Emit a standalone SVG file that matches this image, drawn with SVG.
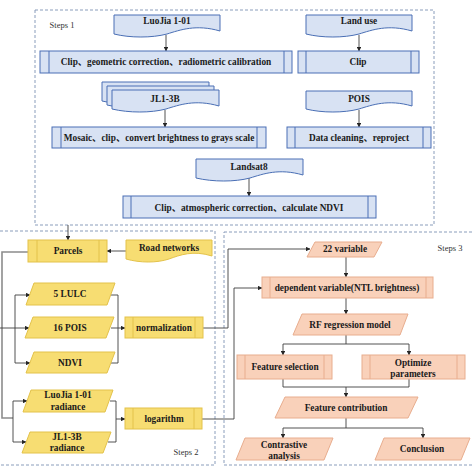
<svg xmlns="http://www.w3.org/2000/svg" width="474" height="474" viewBox="0 0 474 474">
<defs>
<marker id="arr" viewBox="0 0 6 6" refX="5.5" refY="3" markerWidth="4.5" markerHeight="4.5" orient="auto" markerUnits="userSpaceOnUse">
<path d="M0,0 L6,3 L0,6 z" fill="#262626"/>
</marker>
<style>
text{font-family:"Liberation Serif","Noto Sans CJK SC",serif;font-weight:bold;font-size:9.3px;fill:#1a1a1a;text-anchor:middle}
.lbl{font-weight:normal;font-size:8.5px;fill:#333}
.blue{fill:#D8E2F3;stroke:#4A6FB5;stroke-width:1}
.yel{fill:#F7DD72;stroke:#E3C24A;stroke-width:1}
.pch{fill:#F9D1BA;stroke:#E8AD8E;stroke-width:1}
.il{fill:none;stroke-width:1}
.blue-l{stroke:#4A6FB5}
.yel-l{stroke:#E3C24A}
.pch-l{stroke:#E8AD8E}
.grp{fill:none;stroke:#8A9DBB;stroke-width:1;stroke-dasharray:3,2}
.c{fill:none;stroke:#404040;stroke-width:0.9}
.a{marker-end:url(#arr)}
.g{fill:none;stroke:#8C8C8C;stroke-width:1.6}
</style>
</defs>

<rect class="grp" x="35" y="10" width="399" height="215"/>
<rect class="grp" x="-5" y="231" width="220" height="234"/>
<rect class="grp" x="224" y="232" width="255" height="233"/>
<text class="lbl" x="62" y="28">Steps 1</text>
<text class="lbl" x="186" y="455">Steps 2</text>
<text class="lbl" x="450" y="251">Steps 3</text>

<g id="connectors">
<path class="c a" d="M166,35 V51"/>
<path class="c a" d="M359,35 V51"/>
<path class="c a" d="M165,110 V127"/>
<path class="c a" d="M359,110 V127"/>
<path class="c a" d="M249,178 V196"/>
<path class="c a" d="M68,225 V240"/>
<path class="c a" d="M126,251 H107"/>
<path class="g" d="M28,252 H2 V418 H13"/>
<path class="c" d="M13,401 V442"/>
<path class="c a" d="M13,401 H27"/>
<path class="c a" d="M13,442 H26"/>
<path class="c a" d="M0,328 H29"/>
<path class="c" d="M15,295 V363"/>
<path class="c a" d="M15,295 H30"/>
<path class="c a" d="M15,363 H30"/>
<path class="c" d="M111,295 H118 V363 H111"/>
<path class="c a" d="M111,328 H125"/>
<path class="c" d="M110,401 H116 V442 H108"/>
<path class="c a" d="M116,419 H125"/>
<path class="c a" d="M203,328 H228 V249 H310"/>
<path class="c a" d="M202,419 H234 V288 H262"/>
<path class="c a" d="M346,257 V277"/>
<path class="c a" d="M346,298 V314"/>
<path class="c" d="M346,335 V344"/>
<path class="c a" d="M283,344 H409 V355"/>
<path class="c a" d="M283,344 V355"/>
<path class="c" d="M283,379 V387 H409 V379"/>
<path class="c a" d="M346,387 V397"/>
<path class="c" d="M346,418 V428"/>
<path class="c a" d="M283,428 H423 V438"/>
<path class="c a" d="M283,428 V438"/>
</g>

<g id="luojia">
<path class="blue" d="M114,15 H220 V31 C196,24 180,30 167,34 C152,38 130,38 114,34 Z"/>
<text x="167" y="24">LuoJia 1-01</text>
</g>
<g id="landuse">
<path class="blue" d="M306,15 H412 V31 C388,24 372,30 359,34 C344,38 322,38 306,34 Z"/>
<text x="359" y="24">Land use</text>
</g>
<g id="clip-geo">
<rect class="blue" x="40" y="51" width="252" height="22"/>
<path class="il blue-l" d="M49,51 V73 M284,51 V73"/>
<text x="166" y="65">Clip、geometric correction、radiometric calibration</text>
</g>
<g id="clip">
<rect class="blue" x="298" y="51" width="121" height="22"/>
<path class="il blue-l" d="M306,51 V73 M411,51 V73"/>
<text x="358" y="65">Clip</text>
</g>
<g id="jl13b">
<path class="blue" d="M102,82 H209 V98 C185,91 169,97 156,101 C141,105 119,105 102,101 Z"/>
<path class="blue" d="M107,86 H214 V102 C190,95 174,101 161,105 C146,109 124,109 107,105 Z"/>
<path class="blue" d="M112,90 H219 V106 C195,99 179,105 166,109 C151,113 129,113 112,109 Z"/>
<text x="165" y="102">JL1-3B</text>
</g>
<g id="pois">
<path class="blue" d="M306,91 H412 V106 C388,99 372,105 359,109 C344,113 322,113 306,109 Z"/>
<text x="359" y="102">POIS</text>
</g>
<g id="mosaic">
<rect class="blue" x="52" y="127" width="214" height="21"/>
<path class="il blue-l" d="M61,127 V148 M257,127 V148"/>
<text x="159" y="141">Mosaic、clip、convert brightness to grays scale</text>
</g>
<g id="datacleaning">
<rect class="blue" x="287" y="127" width="144" height="21"/>
<path class="il blue-l" d="M295,127 V148 M423,127 V148"/>
<text x="359" y="141">Data cleaning、reproject</text>
</g>
<g id="landsat8">
<path class="blue" d="M196,159 H303 V175 C279,168 263,174 250,178 C235,182 213,182 196,178 Z"/>
<text x="249" y="170">Landsat8</text>
</g>
<g id="clip-atmos">
<rect class="blue" x="123" y="196" width="253" height="22"/>
<path class="il blue-l" d="M131,196 V218 M368,196 V218"/>
<text x="249" y="211">Clip、atmospheric correction、calculate NDVI</text>
</g>

<g id="parcels">
<rect class="yel" x="28" y="240" width="79" height="22"/>
<path class="il yel-l" d="M37,240 V262 M99,240 V262"/>
<text x="68" y="254">Parcels</text>
</g>
<g id="roadnetworks">
<path class="yel" d="M126,240 H212 V256 C193,250 180,255 169,259 C157,263 140,263 126,259 Z"/>
<text x="169" y="251">Road networks</text>
</g>
<g id="lulc">
<path class="yel" d="M34,283 H115 L107,305 H26 Z"/>
<text x="70" y="297">5 LULC</text>
</g>
<g id="pois16">
<path class="yel" d="M33,317 H114 L106,338 H25 Z"/>
<text x="70" y="331">16 POIS</text>
</g>
<g id="ndvi">
<path class="yel" d="M34,352 H115 L107,373 H26 Z"/>
<text x="70" y="366">NDVI</text>
</g>
<g id="luojia-rad">
<path class="yel" d="M31,390 H113 L105,412 H23 Z"/>
<text x="68" y="398">LuoJia 1-01</text>
<text x="68" y="410">radiance</text>
</g>
<g id="jl-rad">
<path class="yel" d="M30,432 H111 L103,453 H22 Z"/>
<text x="67" y="440">JL1-3B</text>
<text x="67" y="451">radiance</text>
</g>
<g id="normalization">
<rect class="yel" x="125" y="317" width="78" height="21"/>
<path class="il yel-l" d="M133,317 V338 M195,317 V338"/>
<text x="164" y="331">normalization</text>
</g>
<g id="logarithm">
<rect class="yel" x="125" y="408" width="77" height="21"/>
<path class="il yel-l" d="M133,408 V429 M194,408 V429"/>
<text x="164" y="422">logarithm</text>
</g>

<g id="var22">
<path class="pch" d="M315,242 H382 L374,257 H307 Z"/>
<text x="345" y="252">22 variable</text>
</g>
<g id="depvar">
<rect class="pch" x="262" y="277" width="171" height="21"/>
<path class="il pch-l" d="M270,277 V298 M426,277 V298"/>
<text x="347" y="291">dependent variable(NTL brightness)</text>
</g>
<g id="rf">
<path class="pch" d="M302,314 H408 L400,335 H293 Z"/>
<text x="350" y="328">RF regression model</text>
</g>
<g id="featsel">
<rect class="pch" x="237" y="355" width="95" height="24"/>
<path class="il pch-l" d="M245,355 V379 M324,355 V379"/>
<text x="285" y="370">Feature selection</text>
</g>
<g id="optimize">
<rect class="pch" x="362" y="355" width="103" height="24"/>
<path class="il pch-l" d="M370,355 V379 M457,355 V379"/>
<text x="413" y="366">Optimize</text>
<text x="413" y="377">parameters</text>
</g>
<g id="featcontrib">
<path class="pch" d="M285,397 H418 L408,418 H275 Z"/>
<text x="346" y="411">Feature contribution</text>
</g>
<g id="contrastive">
<path class="pch" d="M245,438 H333 L324,460 H236 Z"/>
<text x="284" y="448">Contrastive</text>
<text x="284" y="459">analysis</text>
</g>
<g id="conclusion">
<path class="pch" d="M384,438 H470 L461,460 H375 Z"/>
<text x="422" y="452">Conclusion</text>
</g>
</svg>
